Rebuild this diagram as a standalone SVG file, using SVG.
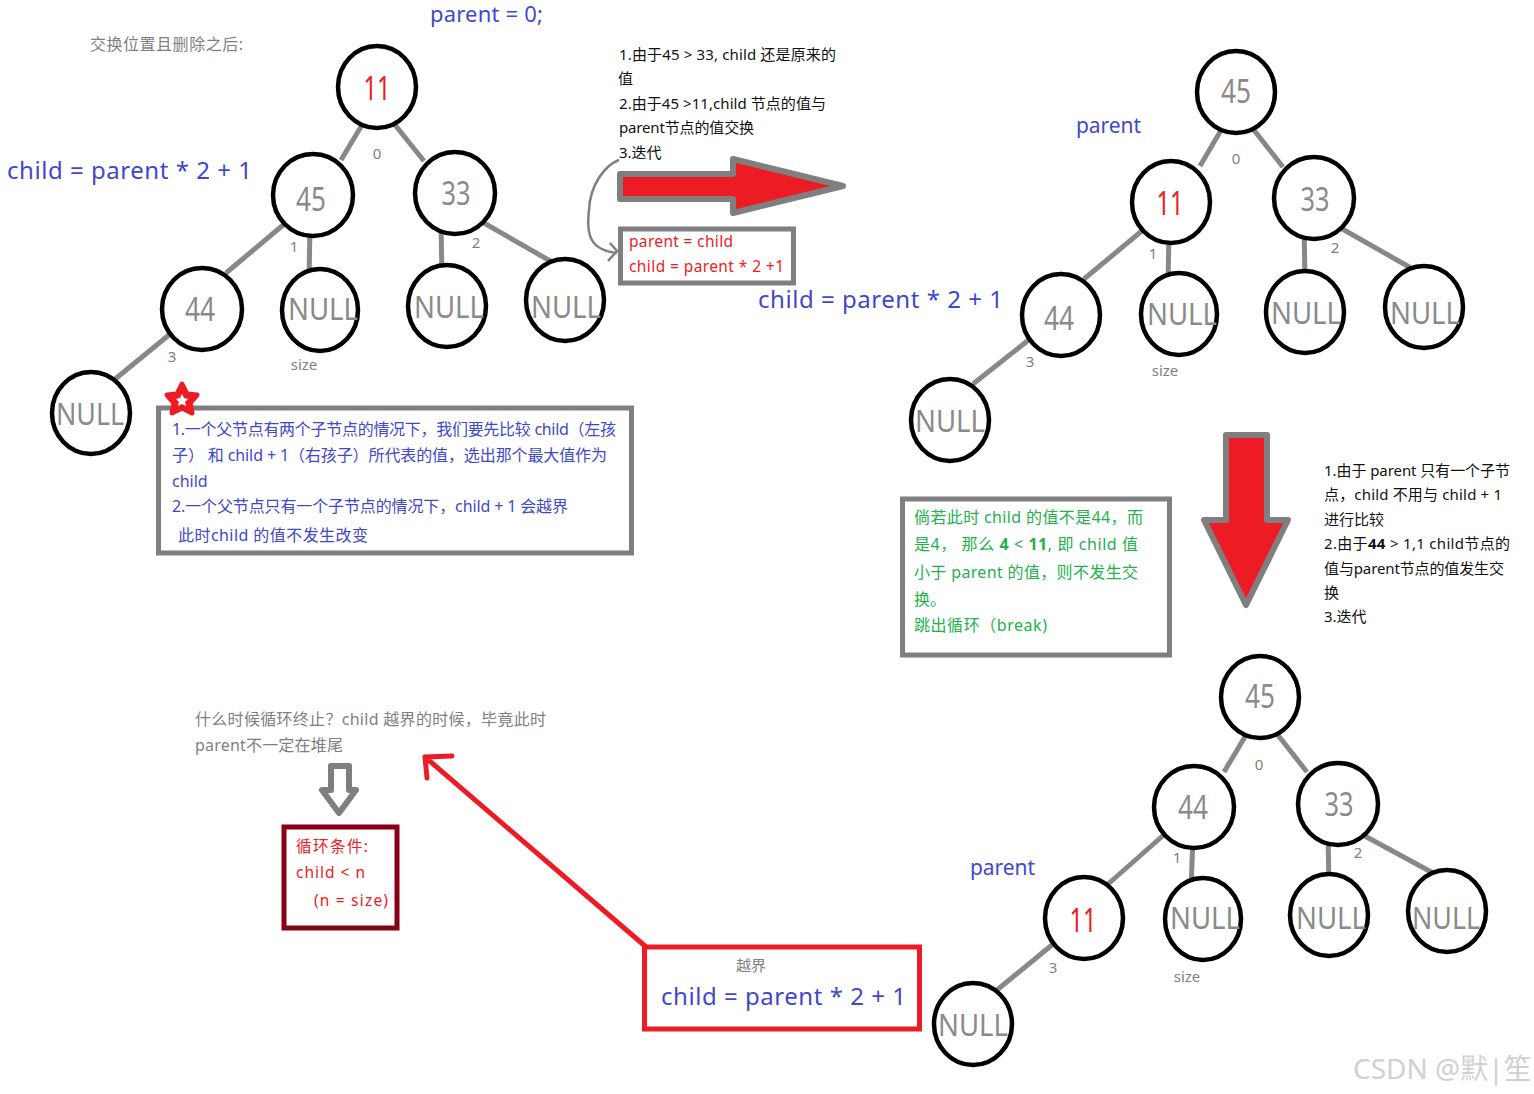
<svg xmlns="http://www.w3.org/2000/svg" width="1534" height="1094" viewBox="0 0 1534 1094">
<style>
text{font-family:"Noto Sans","Noto Sans CJK SC",sans-serif}
.n{fill:#fff;stroke:#000;stroke-width:4.5}
.v{font-size:32px;fill:#8a8a8a;text-anchor:middle}
.r{font-size:32px;fill:#ed1c24;text-anchor:middle}
.nl{font-size:31px;fill:#8a8a8a;text-anchor:middle}
.e{stroke:#888;stroke-width:5;fill:none}
.i{font-size:15px;fill:#7f7f7f;text-anchor:middle}
.b{font-size:24px;fill:#3f48cc}
.p{font-size:21px;fill:#3f48cc}
.t{font-size:15px;fill:#111}
.bl{font-size:16px;fill:#3f48cc}
.g{font-size:16px;fill:#22b14c}
.rt{font-size:15.500px;fill:#ed1c24}
.gt{font-size:16px;fill:#7f7f7f}
.bx{fill:#fff;stroke:#7f7f7f;stroke-width:5}
.ar{fill:#ed1c24;stroke:#7f7f7f;stroke-width:6;stroke-linejoin:round}
</style>
<g id="connectors">
<path class="e" d="M368 115L341 160M387 115L424 161M295 215L226 273M310 225L309 280M441 225L442 275M470 215L552 262M175 330L114 380"/>
<path class="e" d="M1227 120L1200 166M1246 120L1283 167M1155 220L1084 279M1169 230L1168 285M1304 225L1305 280M1330 222L1411 268M1035 335L973 384"/>
<path class="e" d="M1252 725L1224 772M1270 725L1307 772M1175 825L1107 885M1193 835L1191 890M1328 835L1329 885M1350 828L1435 874M1058 940L997 990"/>
</g>
<g id="node-t1-root"><ellipse class="n" cx="377" cy="87" rx="39" ry="41"/><text class="r" x="377" y="100" textLength="27" lengthAdjust="spacingAndGlyphs">11</text></g>
<g id="node-t1-45"><ellipse class="n" cx="313" cy="195" rx="40" ry="41"/><text class="v" x="311" y="211" textLength="30" lengthAdjust="spacingAndGlyphs">45</text></g>
<g id="node-t1-33"><ellipse class="n" cx="455" cy="193" rx="40" ry="41"/><text class="v" x="456" y="205" textLength="29" lengthAdjust="spacingAndGlyphs">33</text></g>
<g id="node-t1-44"><ellipse class="n" cx="202" cy="309" rx="40" ry="41"/><text class="v" x="200" y="321" textLength="30" lengthAdjust="spacingAndGlyphs">44</text></g>
<g id="node-t1-n1"><ellipse class="n" cx="320" cy="310" rx="38" ry="41"/><text class="nl" x="323" y="320" textLength="70" lengthAdjust="spacingAndGlyphs">NULL</text></g>
<g id="node-t1-n2"><ellipse class="n" cx="447" cy="306" rx="39" ry="41"/><text class="nl" x="449" y="318" textLength="70" lengthAdjust="spacingAndGlyphs">NULL</text></g>
<g id="node-t1-n3"><ellipse class="n" cx="565" cy="300" rx="39" ry="41"/><text class="nl" x="566" y="318" textLength="70" lengthAdjust="spacingAndGlyphs">NULL</text></g>
<g id="node-t1-n4"><ellipse class="n" cx="91" cy="413" rx="39" ry="41"/><text class="nl" x="90" y="425" textLength="68" lengthAdjust="spacingAndGlyphs">NULL</text></g>
<g id="node-t2-root"><ellipse class="n" cx="1236" cy="92" rx="39" ry="41"/><text class="v" x="1236" y="103" textLength="30" lengthAdjust="spacingAndGlyphs">45</text></g>
<g id="node-t2-11"><ellipse class="n" cx="1171" cy="202" rx="39" ry="41"/><text class="r" x="1170" y="215" textLength="27" lengthAdjust="spacingAndGlyphs">11</text></g>
<g id="node-t2-33"><ellipse class="n" cx="1314" cy="198" rx="40" ry="41"/><text class="v" x="1315" y="211" textLength="29" lengthAdjust="spacingAndGlyphs">33</text></g>
<g id="node-t2-44"><ellipse class="n" cx="1061" cy="315" rx="39" ry="41"/><text class="v" x="1059" y="330" textLength="30" lengthAdjust="spacingAndGlyphs">44</text></g>
<g id="node-t2-n1"><ellipse class="n" cx="1179" cy="314" rx="38" ry="41"/><text class="nl" x="1182" y="325" textLength="70" lengthAdjust="spacingAndGlyphs">NULL</text></g>
<g id="node-t2-n2"><ellipse class="n" cx="1305" cy="312" rx="39" ry="41"/><text class="nl" x="1306" y="324" textLength="70" lengthAdjust="spacingAndGlyphs">NULL</text></g>
<g id="node-t2-n3"><ellipse class="n" cx="1424" cy="307" rx="39" ry="41"/><text class="nl" x="1425" y="324" textLength="70" lengthAdjust="spacingAndGlyphs">NULL</text></g>
<g id="node-t2-n4"><ellipse class="n" cx="950" cy="420" rx="39" ry="41"/><text class="nl" x="950" y="432" textLength="70" lengthAdjust="spacingAndGlyphs">NULL</text></g>
<g id="node-t3-root"><ellipse class="n" cx="1260" cy="697" rx="39" ry="41"/><text class="v" x="1260" y="708" textLength="30" lengthAdjust="spacingAndGlyphs">45</text></g>
<g id="node-t3-44"><ellipse class="n" cx="1194" cy="807" rx="40" ry="41"/><text class="v" x="1193" y="819" textLength="30" lengthAdjust="spacingAndGlyphs">44</text></g>
<g id="node-t3-33"><ellipse class="n" cx="1338" cy="804" rx="40" ry="41"/><text class="v" x="1339" y="816" textLength="29" lengthAdjust="spacingAndGlyphs">33</text></g>
<g id="node-t3-11"><ellipse class="n" cx="1084" cy="918" rx="39" ry="41"/><text class="r" x="1083" y="932" textLength="27" lengthAdjust="spacingAndGlyphs">11</text></g>
<g id="node-t3-n1"><ellipse class="n" cx="1203" cy="919" rx="38" ry="41"/><text class="nl" x="1205" y="929" textLength="70" lengthAdjust="spacingAndGlyphs">NULL</text></g>
<g id="node-t3-n2"><ellipse class="n" cx="1329" cy="915" rx="39" ry="41"/><text class="nl" x="1331" y="929" textLength="70" lengthAdjust="spacingAndGlyphs">NULL</text></g>
<g id="node-t3-n3"><ellipse class="n" cx="1447" cy="911" rx="39" ry="41"/><text class="nl" x="1446" y="929" textLength="68" lengthAdjust="spacingAndGlyphs">NULL</text></g>
<g id="node-t3-n4"><ellipse class="n" cx="973" cy="1024" rx="39" ry="41"/><text class="nl" x="973" y="1036" textLength="70" lengthAdjust="spacingAndGlyphs">NULL</text></g>
<g id="indices">
<text class="i" x="377" y="159">0</text><text class="i" x="294" y="252">1</text><text class="i" x="476" y="248">2</text><text class="i" x="172" y="362">3</text><text class="i" x="304" y="370">size</text>
<text class="i" x="1236" y="164">0</text><text class="i" x="1153" y="259">1</text><text class="i" x="1335" y="253">2</text><text class="i" x="1030" y="367">3</text><text class="i" x="1165" y="376">size</text>
<text class="i" x="1259" y="770">0</text><text class="i" x="1177" y="863">1</text><text class="i" x="1358" y="858">2</text><text class="i" x="1053" y="973">3</text><text class="i" x="1187" y="982">size</text>
</g>
<g id="labels">
<text class="gt" x="90" y="50" textLength="153">交换位置且删除之后:</text>
<text class="b" x="430" y="22" style="font-size:22px" textLength="113">parent = 0;</text>
<text class="b" x="7" y="179" textLength="245">child = parent * 2 + 1</text>
<text class="p" x="1076" y="133" textLength="65">parent</text>
<text class="b" x="758" y="308" textLength="245">child = parent * 2 + 1</text>
<text class="p" x="970" y="875" textLength="65">parent</text>
<text class="t" x="619" y="60" textLength="217">1.由于45 &gt; 33, child 还是原来的</text>
<text class="t" x="618" y="84">值</text>
<text class="t" x="619" y="109" textLength="207">2.由于45 &gt;11,child 节点的值与</text>
<text class="t" x="619" y="133" textLength="135">parent节点的值交换</text>
<text class="t" x="619" y="158">3.迭代</text>
<text class="t" x="1324" y="476" textLength="186">1.由于 parent 只有一个子节</text>
<text class="t" x="1324" y="500" textLength="178">点，child 不用与 child + 1</text>
<text class="t" x="1324" y="525">进行比较</text>
<text class="t" x="1324" y="549" textLength="186">2.由于<tspan font-weight="700">44</tspan> &gt; 1,1 child节点的</text>
<text class="t" x="1324" y="574" textLength="180">值与parent节点的值发生交</text>
<text class="t" x="1324" y="598">换</text>
<text class="t" x="1324" y="622">3.迭代</text>
<text class="gt" x="195" y="725" textLength="351">什么时候循环终止？child 越界的时候，毕竟此时</text>
<text class="gt" x="195" y="751" textLength="148">parent不一定在堆尾</text>
<text x="1353" y="1079" font-size="28" fill="#d0d0d0">CSDN @默|笙</text>
</g>
<g id="arrow-right"><path class="ar" d="M620 174H733V159L843 186L733 213V199H620Z"/></g>
<g id="arrow-down"><path class="ar" d="M1226 435H1267V520H1288L1246 605L1204 520H1226Z"/></g>
<g id="box-iterate"><rect class="bx" x="620.500" y="229" width="173" height="54"/><text class="rt" x="629" y="247" textLength="104">parent = child</text><text class="rt" x="629" y="272" textLength="155">child = parent * 2 +1</text></g>
<path id="curve" d="M619 160C605 165 590 185 589 210C586 235 590 250 617 253M610 243L617 251L608 261" fill="none" stroke="#7f7f7f" stroke-width="2.500"/>
<g id="box-note"><rect class="bx" x="158.500" y="408" width="473" height="145"/>
<text class="bl" x="172" y="435" textLength="444">1.一个父节点有两个子节点的情况下，我们要先比较 child（左孩</text>
<text class="bl" x="172" y="461" textLength="435">子） 和 child + 1（右孩子）所代表的值，选出那个最大值作为</text>
<text class="bl" x="172" y="487">child</text>
<text class="bl" x="172" y="512" textLength="396">2.一个父节点只有一个子节点的情况下，child + 1 会越界</text>
<text class="bl" x="178" y="541" textLength="190">此时child 的值不发生改变</text></g>
<g id="star"><path d="M182 384L187 394L197 395L190 403L192 413L182 408L172 413L174 403L167 395L177 394Z" fill="#ed1c24" stroke="#ed1c24" stroke-width="5" stroke-linejoin="round"/><path d="M182 394L184 398L188 399L185 402L186 406L182 404L178 406L179 402L176 399L180 398Z" fill="#fff"/></g>
<g id="box-green"><rect class="bx" x="902.500" y="499" width="267" height="156"/>
<text class="g" x="914" y="523" textLength="229">倘若此时 child 的值不是44，而</text>
<text class="g" x="914" y="550" textLength="224">是4， 那么 <tspan font-weight="700">4</tspan> &lt; <tspan font-weight="700">11</tspan>, 即 child 值</text>
<text class="g" x="914" y="578" textLength="224">小于 parent 的值，则不发生交</text>
<text class="g" x="914" y="605">换。</text>
<text class="g" x="914" y="631" textLength="133">跳出循环（break)</text></g>
<path id="hollow-arrow" d="M331 766H349V790H356L339 813L322 790H331Z" fill="#fff" stroke="#7f7f7f" stroke-width="6" stroke-linejoin="round"/>
<g id="box-cond"><rect x="284" y="827" width="113" height="101" fill="#fff" stroke="#880015" stroke-width="5"/>
<text class="rt" x="296" y="852" textLength="72">循环条件:</text><text class="rt" x="296" y="878" textLength="69">child &lt; n</text><text class="rt" x="314" y="906" textLength="74">(n = size)</text></g>
<path id="red-arrow" d="M645 946L425 757M425 757L452 756M425 757L427 778" fill="none" stroke="#ed1c24" stroke-width="5" stroke-linecap="round"/>
<g id="box-bound"><rect x="644.500" y="947" width="275" height="82" fill="#fff" stroke="#ed1c24" stroke-width="5"/>
<text x="736" y="971" font-size="15" fill="#7f7f7f">越界</text><text class="b" x="661" y="1005" textLength="245">child = parent * 2 + 1</text></g>
</svg>
